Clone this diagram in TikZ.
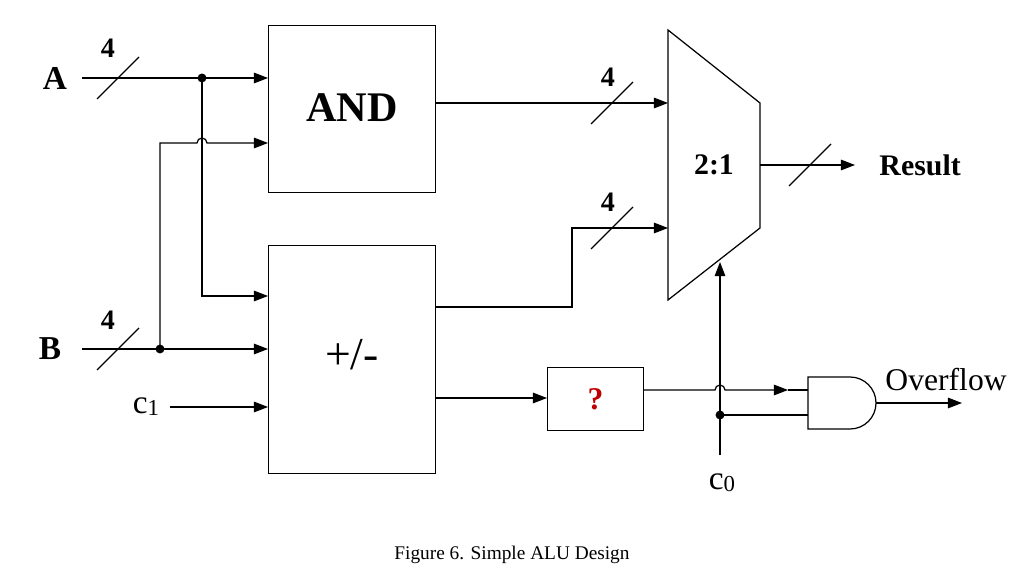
\documentclass[tikz,border=0pt]{standalone}
\usepackage{fontspec}
\setmainfont{Liberation Serif}
\usetikzlibrary{calc,arrows.meta}
\newcommand{\busmark}[1]{\draw (#1) +(-21,21) -- +(21,-21);}
\begin{document}
\begin{tikzpicture}[x=0.02cm,y=-0.02cm,line width=0.7pt,>={Triangle[length=8pt,width=6pt]}]
\tikzset{
  blk/.style={draw, minimum width=167*0.02cm, inner sep=0pt},
  lbl/.style={font=\fontsize{17}{17}\selectfont\bfseries},
  wid/.style={font=\fontsize{16}{16}\selectfont\bfseries},
  dot/.style={circle, fill, inner sep=1.8pt}
}
\useasboundingbox (0,0) rectangle (1024,587);

% blocks
\node[blk, minimum height=167*0.02cm, anchor=north west] (and) at (268,25) {};
\node[font=\fontsize{24}{24}\selectfont\bfseries] at (352,108) {AND};
\node[blk, minimum height=228*0.02cm, anchor=north west] (add) at (268,245) {};
\node[font=\fontsize{26}{26}\selectfont] at (352,355) {+/-};
\node[draw, minimum width=96*0.02cm, minimum height=63*0.02cm, inner sep=0pt,
  anchor=north west, text=red!75!black, font=\fontsize{18}{18}\selectfont\bfseries] (chk) at (547,367) {?};
\draw (668,30) -- (760,103) -- (760,228) -- (668,300) -- cycle;
\node[lbl] (mux) at (714,165) {2:1};

% AND gate
\coordinate (g) at (808,377);
\draw (g) -- (850,377) arc (270:450:26) -- (808,429) -- cycle;
\coordinate (gout) at (876,403);

% inputs
\node[lbl, font=\fontsize{19}{19}\selectfont\bfseries] (A) at (55,78) {A};
\node[lbl, font=\fontsize{19}{19}\selectfont\bfseries] (B) at (50,349) {B};
\node[font=\fontsize{19}{19}\selectfont] (c1) at (146,407) {c\raisebox{-1pt}{\fontsize{13}{13}\selectfont 1}};
\node[font=\fontsize{19}{19}\selectfont] (c0) at (722,483) {c\raisebox{-1pt}{\fontsize{13}{13}\selectfont 0}};
\coordinate (ja) at (202,78);
\coordinate (jb) at (160,349);
\node[dot] at (ja) {};
\node[dot] at (jb) {};

\draw[->] (82,78) -- (ja) -- (268,78);
\draw[->] (82,349) -- (jb) -- (268,349);
\draw[->] (ja) |- (268,296);
\draw[->] (jb) |- (197,143) arc (180:360:5) -- (268,143);
\draw[->] (170,407) -- (268,407);
\busmark{118,78}
\busmark{118,349}
\node[wid] at (108,48) {4};
\node[wid] at (108,320) {4};

% to mux
\draw[->] (435,103) -- (668,103);
\draw[->] (435,307) -- (572,307) -- (572,228) -- (668,228);
\busmark{612,103}
\busmark{612,228}
\node[wid] at (608,77) {4};
\node[wid] at (608,202) {4};
\draw[->] (760,165) -- (855,165);
\busmark{810,165}
\node[lbl, anchor=west] (res) at (873,165) {Result};

% overflow path
\draw[->] (435,398) -- (chk.west |- 0,398);
\draw[->] (643,390) -- (715,390) arc (180:360:5) -- (788,390);
\draw (788,390) -- (808,390);
\draw[->] (720,455) -- (720,262);
\node[dot] at (720,415) {};
\draw (720,415) -- (808,415);
\draw[->] (gout) -- (962,403);
\node[font=\fontsize{18}{18}\selectfont, anchor=west] at (879,380) {Overflow};

\node[font=\fontsize{11}{11}\selectfont] at (512,555) {Figure 6. Simple ALU Design};
\end{tikzpicture}
\end{document}
